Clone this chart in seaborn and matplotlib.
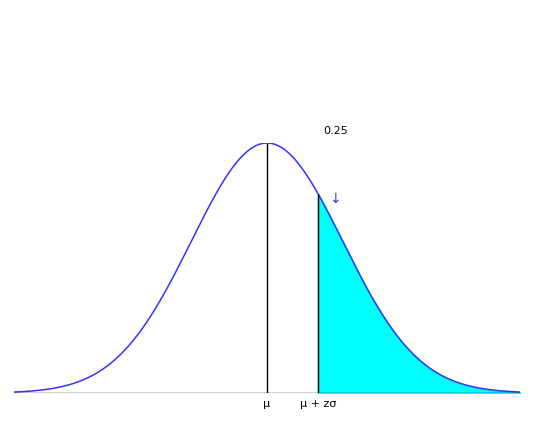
import numpy as np
import pandas as pd
import seaborn as sns
import matplotlib
matplotlib.use("Agg")
import matplotlib.pyplot as plt

mu = 0.0
sigma = 1.0
tail_prob = 0.25
z = 0.674
x_range = 3.34
labels = ["μ", "μ + zσ"]

x = np.linspace(-x_range, x_range, 600)
y = np.exp(-0.5 * ((x - mu) / sigma) ** 2) / (sigma * np.sqrt(2 * np.pi))
df = pd.DataFrame({"x": x, "y": y})
peak = y.max()

fig = plt.figure(figsize=(5.4, 4.24), dpi=100)
ax = fig.add_axes([14/540, 31/424, 506/540, 250/424])
sns.lineplot(data=df, x="x", y="y", ax=ax, color="#3333ff", lw=1.1)
m = x >= z
ax.fill_between(x[m], 0, y[m], color="cyan", zorder=1)
ax.axhline(0, color="black", lw=1)
ax.vlines([mu], 0, peak, color="black", lw=1)
yz = np.exp(-0.5 * z**2) / np.sqrt(2*np.pi)
ax.vlines([z], 0, yz, color="black", lw=1)
ax.set_xlim(-x_range, x_range)
ax.set_ylim(0, peak)
ax.axis("off")
ax.text(0.90, 0.418, f"{tail_prob:.2f}", ha="center", va="center", fontsize=8, clip_on=False)
ax.text(0.90, 0.31, "↓", ha="center", va="center", fontsize=10, color="#3333ff", clip_on=False)
ax.text(mu, -0.018, labels[0], ha="center", va="center", fontsize=8, clip_on=False)
ax.text(z, -0.018, labels[1], ha="center", va="center", fontsize=8, clip_on=False)
fig.savefig("out.png", dpi=100, facecolor="white")
